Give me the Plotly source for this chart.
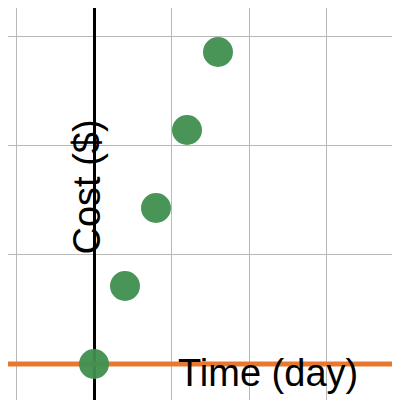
import plotly.graph_objects as go

days = [0, 1, 2, 3, 4]
cost = [0, 5, 10, 15, 20]
x_label = "Time (day)"
y_label = "Cost ($)"

fig = go.Figure()
fig.add_trace(go.Scatter(x=[-3, 11], y=[0, 0], mode="lines",
                         line=dict(color="#e8782f", width=5), hoverinfo="skip"))
fig.add_trace(go.Scatter(x=days, y=cost, mode="markers",
                         marker=dict(size=30, color="#3f8f4f", opacity=0.95)))
fig.update_layout(
    width=400, height=400, margin=dict(l=0, r=0, t=0, b=0, autoexpand=False),
    plot_bgcolor="white", paper_bgcolor="white", showlegend=False,
    xaxis=dict(range=[-2.774, 10.129], dtick=2.5, tick0=0, showgrid=True,
               gridcolor="#b8b8b8", gridwidth=1, zeroline=True,
               zerolinecolor="black", zerolinewidth=3, showticklabels=False),
    yaxis=dict(range=[-2.82, 22.82], dtick=7, tick0=0, showgrid=True,
               gridcolor="#b8b8b8", gridwidth=1, zeroline=False,
               showticklabels=False),
    annotations=[
        dict(text=y_label, x=55 / 400, y=1 - 110 / 400, xref="paper", yref="paper",
             showarrow=False, textangle=-90,
             font=dict(size=38, color="black", family="Liberation Sans")),
        dict(text=x_label, x=260 / 400, y=1 - 388 / 400, xref="paper", yref="paper",
             showarrow=False,
             font=dict(size=38, color="black", family="Liberation Sans")),
    ],
)
fig.update_traces(cliponaxis=False)
fig.write_html("out.html")
